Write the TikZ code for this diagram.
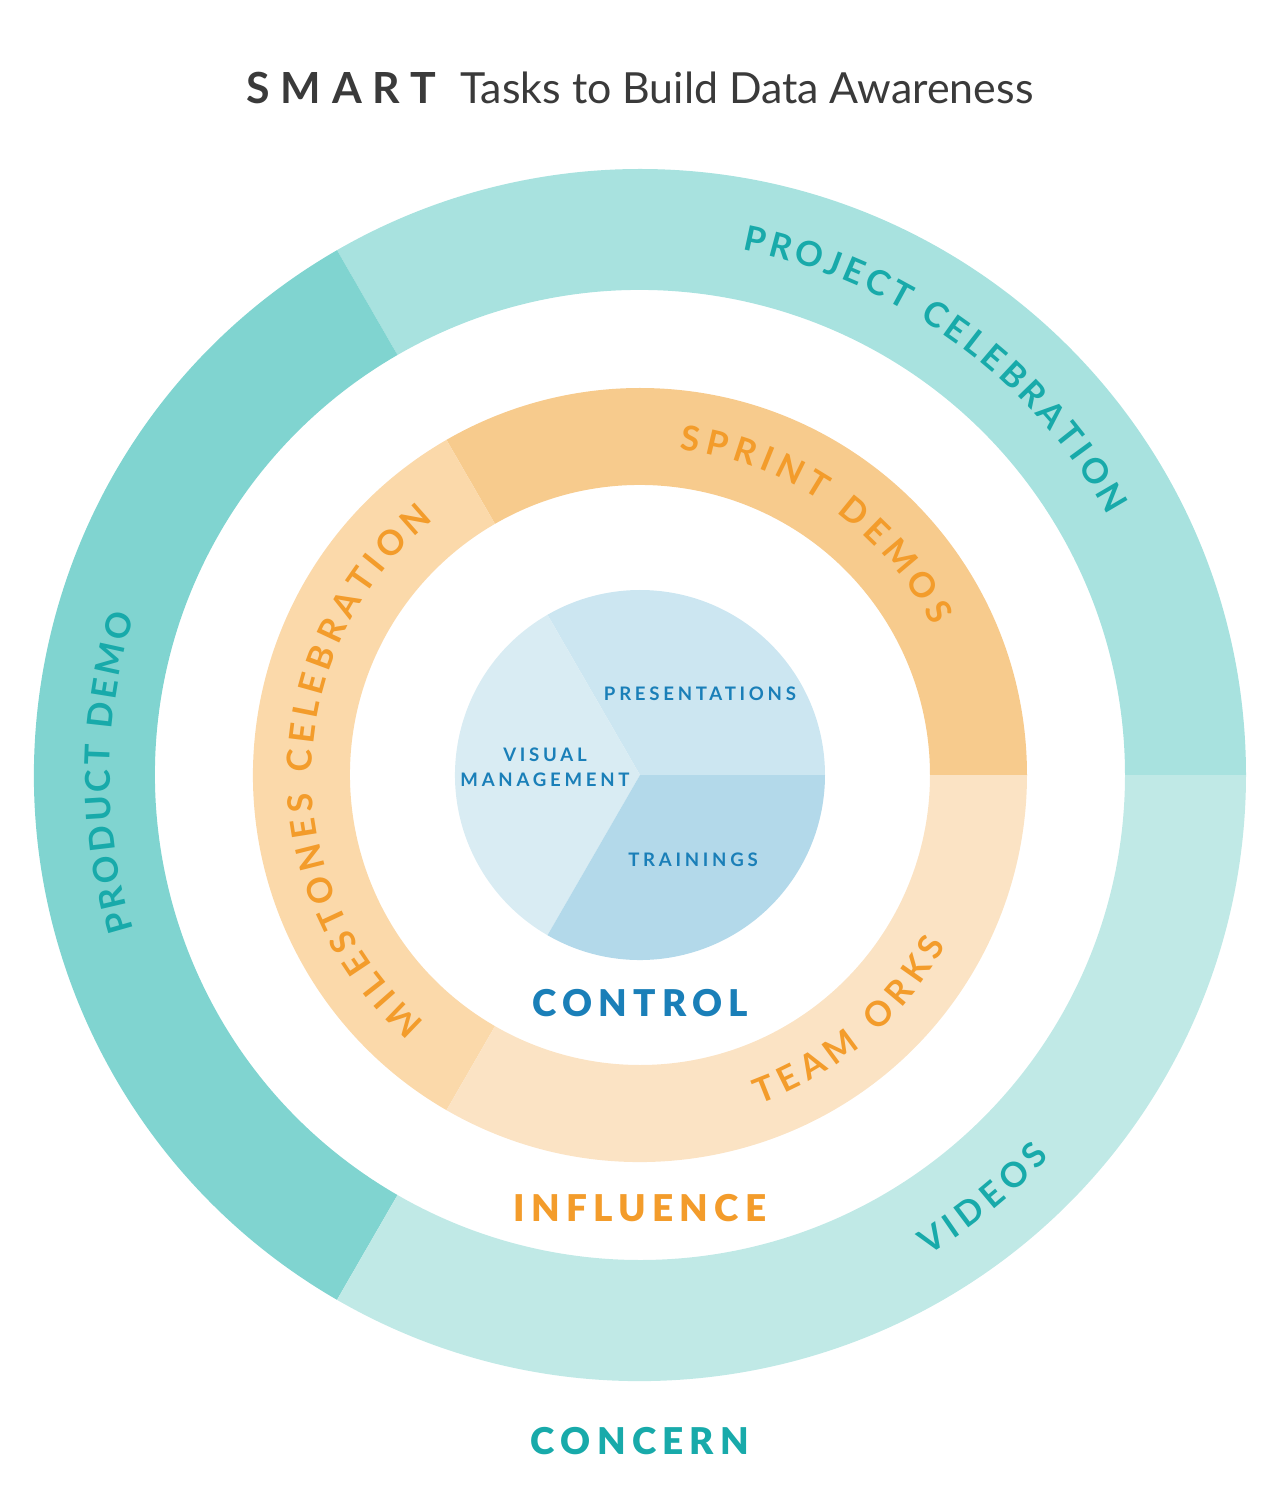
\documentclass[tikz,border=0pt]{standalone}
\usepackage{fontspec}
\setmainfont{Lato}
\usetikzlibrary{decorations.text}
\newfontfamily\ringfont{Lato Bold}
\newfontfamily\pielabelfont[LetterSpace=20]{Lato Bold}
\newfontfamily\zonefont[LetterSpace=17]{Lato Black}

\definecolor{concernA}{HTML}{A8E2DF}
\definecolor{concernB}{HTML}{80D4D0}
\definecolor{concernC}{HTML}{C0E9E6}
\definecolor{influenceA}{HTML}{F7CB8D}
\definecolor{influenceB}{HTML}{FBD9AA}
\definecolor{influenceC}{HTML}{FBE3C4}
\definecolor{controlA}{HTML}{CCE6F1}
\definecolor{controlB}{HTML}{D9ECF3}
\definecolor{controlC}{HTML}{B3D9EA}
\definecolor{tealtext}{HTML}{18AAAA}
\definecolor{orangetext}{HTML}{F39C2B}
\definecolor{bluetext}{HTML}{1A7FB8}
\definecolor{titlegray}{HTML}{3A3A3A}

% one sector of a ring: colour, start, end, inner radius, outer radius
\newcommand{\ringsector}[5]{%
  \fill[#1] (#2:#5) arc[start angle=#2,end angle=#3,radius=#5]
    -- (#3:#4) arc[start angle=#3,end angle=#2,radius=#4] -- cycle;}

\begin{document}
\begin{tikzpicture}[
  ringlabel/.style={decorate,decoration={text along path,text align={fit to path}}},
  pielabel/.style={font=\pielabelfont\fontsize{5.3}{7}\selectfont,text=bluetext,align=center},
  zonelabel/.style={font=\zonefont\fontsize{10.5}{12}\selectfont}]
  \useasboundingbox (-6.4,-7.29) rectangle (6.4,7.75);

  % rings
  \ringsector{concernA}{0}{120}{4.85cm}{6.06cm}
  \ringsector{concernB}{120}{240}{4.85cm}{6.06cm}
  \ringsector{concernC}{240}{360}{4.85cm}{6.06cm}
  \ringsector{influenceA}{0}{120}{2.9cm}{3.87cm}
  \ringsector{influenceB}{120}{240}{2.9cm}{3.87cm}
  \ringsector{influenceC}{240}{360}{2.9cm}{3.87cm}
  \fill[controlA] (0,0) -- (0:1.85cm) arc[start angle=0,end angle=120,radius=1.85cm] -- cycle;
  \fill[controlB] (0,0) -- (120:1.85cm) arc[start angle=120,end angle=240,radius=1.85cm] -- cycle;
  \fill[controlC] (0,0) -- (240:1.85cm) arc[start angle=240,end angle=360,radius=1.85cm] -- cycle;

  % ring labels
  \path[ringlabel,decoration={text={|\ringfont\fontsize{9.8}{12}\selectfont\color{tealtext}|PROJECT CELEBRATION}}]
    (79:5.35cm) arc[start angle=79,end angle=29,radius=5.35cm];
  \path[ringlabel,decoration={text={|\ringfont\fontsize{9.8}{12}\selectfont\color{tealtext}|PRODUCT DEMO}}]
    (197:5.3cm) arc[start angle=197,end angle=162.5,radius=5.3cm];
  \path[ringlabel,decoration={text={|\ringfont\fontsize{9.8}{12}\selectfont\color{tealtext}|VIDEOS}}]
    (301:5.6cm) arc[start angle=301,end angle=317,radius=5.6cm];
  \path[ringlabel,decoration={text={|\ringfont\fontsize{9.8}{12}\selectfont\color{orangetext}|SPRINT DEMOS}}]
    (83:3.28cm) arc[start angle=83,end angle=27,radius=3.28cm];
  \path[ringlabel,decoration={text={|\ringfont\fontsize{9.8}{12}\selectfont\color{orangetext}|MILESTONES CELEBRATION}}]
    (229:3.28cm) arc[start angle=229,end angle=129,radius=3.28cm];
  \path[ringlabel,decoration={text={|\ringfont\fontsize{9.8}{12}\selectfont\color{orangetext}|TEAM ORKS}}]
    (290:3.5cm) arc[start angle=290,end angle=331,radius=3.5cm];

  % pie labels
  \node[pielabel] (presentations) at (0.6,0.81) {PRESENTATIONS};
  \node[pielabel] (visual) at (-0.95,0.08) {VISUAL\\MANAGEMENT};
  \node[pielabel] (trainings) at (0.53,-0.85) {TRAININGS};

  % zone labels
  \node[zonelabel,text=bluetext] (control) at (0,-2.28) {CONTROL};
  \node[zonelabel,text=orangetext] (influence) at (0,-4.33) {INFLUENCE};
  \node[zonelabel,text=tealtext] (concern) at (0,-6.66) {CONCERN};

  % title
  \node[text=titlegray] (title) at (0,6.87)
    {{\addfontfeature{LetterSpace=25}\fontsize{12.2}{15}\selectfont\bfseries SMART}\hspace{0.7em}{\fontsize{12.2}{15}\selectfont Tasks to Build Data Awareness}};
\end{tikzpicture}
\end{document}
